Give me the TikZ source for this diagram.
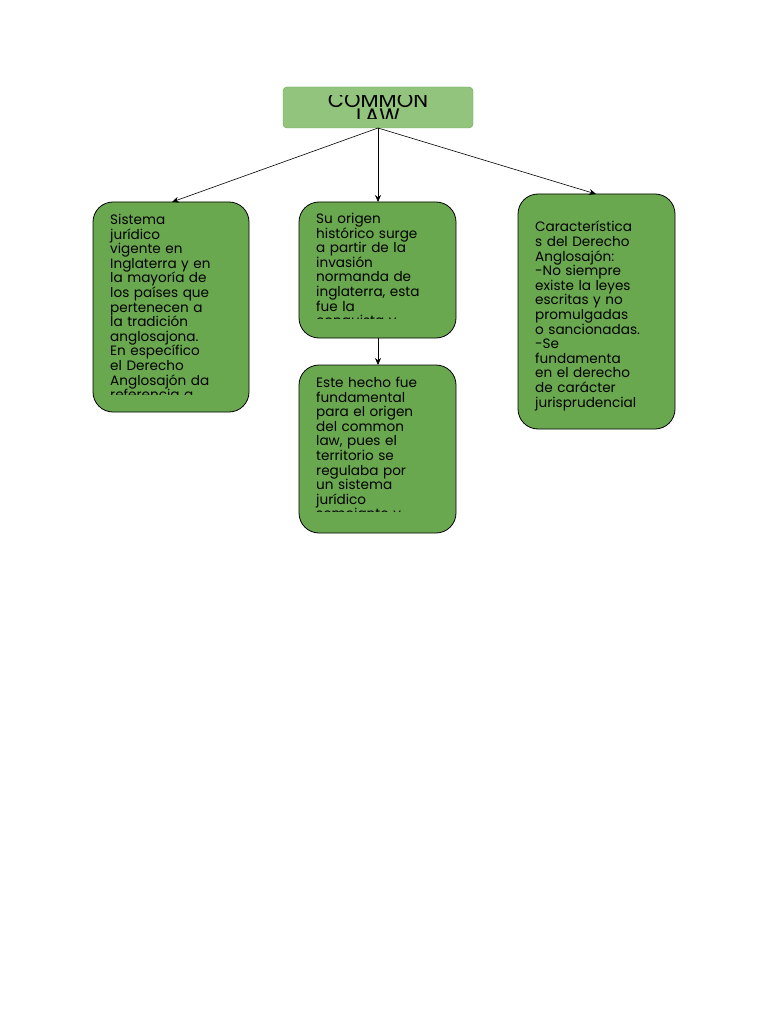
\documentclass[tikz,border=0pt]{standalone}
\usepackage{fontspec}
\setmainfont{Poppins}
\usetikzlibrary{arrows.meta}
\definecolor{boxg}{HTML}{6AA84F}
\definecolor{titleg}{HTML}{93C47D}
\definecolor{titleb}{HTML}{6AA84F}
\begin{document}
\begin{tikzpicture}[x=1pt,y=-1pt,
  gbox/.style={draw=black,fill=boxg,rounded corners=20pt,line width=0.8pt},
  btext/.style={anchor=north west,inner sep=0pt,align=left,text width=160pt,
    font=\fontsize{13.6}{14.6}\selectfont},
  conn/.style={-{Stealth[length=7pt,width=6pt]},line width=0.6pt}]
\useasboundingbox[fill=white] (0,0) rectangle (768,1024);
\draw[fill=titleg,draw=titleb,rounded corners=4pt] (283,87) rectangle (473,128);
\node (title) at (378,108) {};
\begin{scope}
\clip (283,96) rectangle (473,119);
\node[inner sep=0pt,align=center,font=\fontsize{21}{12}\selectfont] at (378,108) {COMMON\\LAW};
\end{scope}
% boxes
\draw[gbox] (93,202) rectangle (249,412);
\draw[gbox] (299,202) rectangle (456,338);
\draw[gbox] (299,365) rectangle (456,533);
\draw[gbox] (518,194) rectangle (675,429);
\coordinate (tb) at (378,128);
\coordinate (lt) at (172,202);
\coordinate (mt) at (378,202);
\coordinate (rt) at (596,194);
\coordinate (mb) at (378,338);
\coordinate (m2) at (378,365);
\begin{scope}
\clip (95,210) rectangle (247,394);
\node[btext] (lx) at (110,214) {Sistema\\jurídico\\vigente en\\Inglaterra y en\\la mayoría de\\los países que\\pertenecen a\\la tradición\\anglosajona.\\En específico\\el Derecho\\Anglosajón da\\referencia a};
\end{scope}
\begin{scope}
\clip (301,210) rectangle (454,318);
\node[btext] (mx) at (316,213) {Su origen\\histórico surge\\a partir de la\\invasión\\normanda de\\inglaterra, esta\\fue la\\conquista y};
\end{scope}
\begin{scope}
\clip (301,370) rectangle (454,511);
\node[btext] (bx) at (316,377) {Este hecho fue\\fundamental\\para el origen\\del common\\law, pues el\\territorio se\\regulaba por\\un sistema\\jurídico\\semejante y};
\end{scope}
\node[btext] (rx) at (535,221) {Característica\\s del Derecho\\Anglosajón:\\-No siempre\\existe la leyes\\escritas y no\\promulgadas\\o sancionadas.\\-Se\\fundamenta\\en el derecho\\de carácter\\jurisprudencial};
\draw[conn] (tb) -- (lt);
\draw[conn] (tb) -- (mt);
\draw[conn] (tb) -- (rt);
\draw[conn] (mb) -- (m2);
\end{tikzpicture}
\end{document}
